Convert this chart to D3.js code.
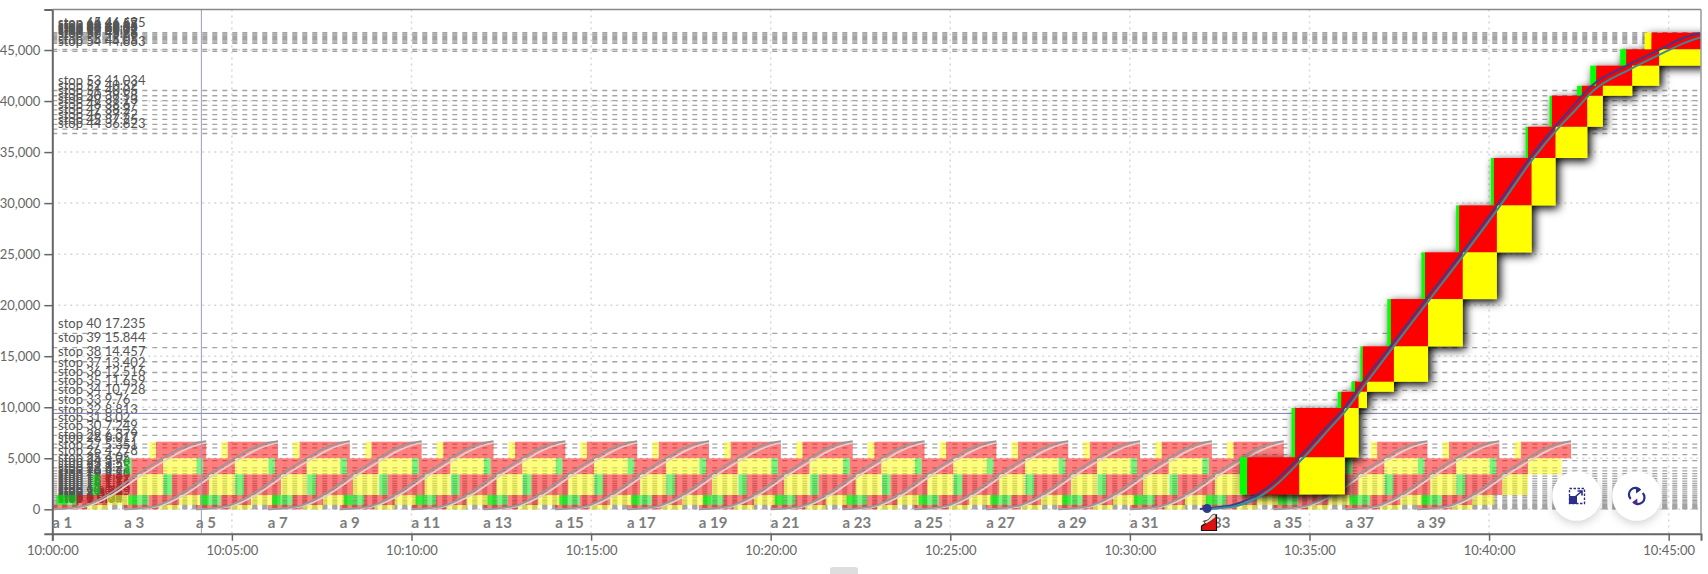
<!DOCTYPE html>
<html><head><meta charset="utf-8">
<script src="https://cdn.jsdelivr.net/npm/d3@7/dist/d3.min.js"></script>
<style>html,body{margin:0;padding:0;background:#fff;overflow:hidden}svg{display:block;font-family:Lato,"Open Sans",sans-serif}</style>
</head><body><svg id="c" width="1708" height="574"></svg>
<script>
// ---------- data ----------
const runNumbers = [1,3,5,7,9,11,13,15,17,19,21,23,25,27,29,31,33,35,37,39];
const runStartSeconds = [0,120,240,360,480,600,720,840,960,1080,1200,1320,1440,1560,1680,1800,1920,2040,2160,2280];
const yTicks = [0,5000,10000,15000,20000,25000,30000,35000,40000,45000];
const xTickSeconds = [0,300,600,900,1200,1500,1800,2100,2400,2700];
// stop numbers are their position + 1; values in thousands as labelled
const stopValues = [0.04,0.09,0.15,0.22,0.3,0.39,0.49,0.6,0.72,0.85,1.0,1.16,1.33,1.51,1.7,1.9,2.1,2.31,2.53,2.76,3.0,3.25,3.5,3.76,4.05,4.778,5.351,6.017,6.379,7.249,8.02,8.813,9.76,10.728,11.659,12.516,13.402,14.457,15.844,17.235,
  22.2,24.9,30.6,36.823,37.25,37.72,38.2,38.67,39.13,39.58,40.05,40.52,41.034,44.863,45.05,45.66,45.78,45.9,46.01,46.12,46.23,46.34,46.45,46.57,46.695];
const hiddenStops = [41,42,43];
// faded template (seconds from run start): [low, high, start, end]
const fadedRed = [[0,420,0,58],[420,1400,41,92],[1400,3430,80,142],[3430,5000,132,185],[5000,6625,173,257]];
const fadedYellow = [[0,420,58,92],[420,1400,92,129],[1400,3430,142,185],[3430,5000,185,241],[5000,6625,162,173]];
const fadedGreen = [[420,1400,7,41],[420,1400,7,21],[1400,3430,66,80],[3430,5000,121,132]];
const fadedCurveT = [0,30,58,92,142,185,215,240,257];
const fadedCurveV = [0,120,420,1400,3430,5000,6000,6500,6680];
const fadedCurve2T = [0,35,63,97,148,191,220,245,257];
const fadedCurve2V = [0,90,380,1300,3300,4850,5800,6350,6500];
// highlighted run (seconds after 10:00:00)
const hiLow  = [1470,5095,9925,11520,12500,15970,20600,25180,29780,34420,37480,40520,41500,43470,45070];
const hiHigh = [5095,9925,11520,12500,15970,20600,25180,29780,34420,37480,40520,41500,43470,45070,46700];
const hiGreen = [[1984,1996],[2070,2076],[2147,2153],[2170,2176],[2185,2189],[2230,2236],[2287,2293],[2345,2350],[2403,2408],[2461,2465],[2501,2505],[2547,2555],[2569,2579],[2619,2629]];
const hiRed = [[1996,2083],[2076,2158],[2153,2182],[2176,2196],[2189,2241],[2236,2298],[2293,2356],[2350,2413],[2408,2471],[2465,2511],[2505,2564],[2555,2590],[2579,2639],[2629,2684],[2671,2760]];
const hiYellow = [[2083,2159],[2158,2182],[2182,2196],[2196,2241],[2241,2298],[2298,2356],[2356,2413],[2413,2471],[2471,2511],[2511,2564],[2564,2590],[2590,2639],[2639,2684],[2684,2760],[2660,2671]];
const curveT = [1917,1929,1972,2029,2083,2129,2158,2189,2235,2295,2355,2413,2468,2510,2539,2569,2630,2686,2724,2752];
const curveV = [30,100,421,2087,5095,8092,9925,12472,15970,20603,25179,29783,34417,37483,39413,41373,43460,45066,46173,46663];
const curve2T = [1933,1980,2036,2089,2135,2163,2195,2240,2300,2360,2418,2473,2515,2544,2574,2635,2690,2729,2757];
const curve2V = [40,350,2000,5000,8000,9850,12400,15900,20500,25100,29700,34300,37300,39100,41000,43100,44700,45750,46300];
const dotPoint = [1929,80];
const crossT = 249, crossV = 9400;

// ---------- scales ----------
const base = new Date(2020,0,1,10,0,0);
const T = s => new Date(base.getTime()+s*1000);
const L=52.3,R=1701,TOP=9.5,B=533.7;
const x = d3.scaleTime().domain([T(0),T(2754)]).range([L,R]);
const y = d3.scaleLinear().domain([-2390,48970]).range([B,TOP]);
const svg = d3.select('#c');
const defs = svg.append('defs');
defs.append('clipPath').attr('id','plot').append('rect').attr('x',L).attr('y',TOP).attr('width',R-L).attr('height',B-TOP);
const f = defs.append('filter').attr('id','sh').attr('filterUnits','userSpaceOnUse').attr('x',1150).attr('y',0).attr('width',558).attr('height',540);
f.append('feGaussianBlur').attr('in','SourceAlpha').attr('stdDeviation',5).attr('result','b');
f.append('feOffset').attr('in','b').attr('dx',2.5).attr('dy',2.5).attr('result','o');
f.append('feComponentTransfer').attr('in','o').attr('result','c').append('feFuncA').attr('type','linear').attr('slope',1.05);
const fm = f.append('feMerge'); fm.append('feMergeNode').attr('in','c'); fm.append('feMergeNode').attr('in','SourceGraphic');
const bf = defs.append('filter').attr('id','bs').attr('x','-40%').attr('y','-40%').attr('width','180%').attr('height','180%');
bf.append('feDropShadow').attr('dx',0).attr('dy',3).attr('stdDeviation',5).attr('flood-color','#000').attr('flood-opacity',.18);

// ---------- grid ----------
const plot = svg.append('g').attr('clip-path','url(#plot)');
const grid = plot.append('g').attr('stroke','#d6d6d6').attr('stroke-width',1.5).attr('stroke-dasharray','2 4');
grid.selectAll('.gx').data(xTickSeconds).join('line').attr('x1',d=>x(T(d))).attr('x2',d=>x(T(d))).attr('y1',TOP).attr('y2',B);
grid.selectAll('.gy').data(yTicks).join('line').attr('x1',L).attr('x2',R).attr('y1',d=>y(d)).attr('y2',d=>y(d));

// ---------- stop lines ----------
const stops = stopValues.map((v,i)=>({n:i+1,v})).filter(d=>!hiddenStops.includes(d.n));
plot.append('g').attr('stroke','#a3a3a3').attr('stroke-width',1.3).attr('stroke-dasharray','5 5')
  .selectAll('line').data(stops).join('line')
  .attr('x1',L).attr('x2',R).attr('y1',d=>y(d.v*1000)).attr('y2',d=>y(d.v*1000));
svg.append('g').attr('fill','#555').attr('font-size',13)
  .selectAll('text').data(stops).join('text')
  .attr('x',58).attr('y',d=>y(d.v*1000)-5.5).text(d=>`stop ${d.n} ${d.v}`);

// ---------- faded runs ----------
const faded = svg.append('g').attr('clip-path','url(#plot)').attr('fill-opacity',.5);
function fadedBars(list,color){
  runStartSeconds.forEach(s=>{
    faded.append('g').attr('fill',color).selectAll('rect').data(list).join('rect')
      .attr('x',d=>x(T(s+d[2]))).attr('width',d=>x(T(s+d[3]))-x(T(s+d[2])))
      .attr('y',d=>y(d[1])).attr('height',d=>y(d[0])-y(d[1]));
  });
}
fadedBars(fadedRed,'#ff0000');
fadedBars(fadedYellow,'#ffff00');
fadedBars(fadedGreen,'#00e800');

// ---------- faded curves ----------
const upper = svg.append('g').attr('clip-path','url(#plot)');
const curve = d3.line().x(d=>x(T(d[0]))).y(d=>y(d[1])).curve(d3.curveMonotoneX);
runStartSeconds.forEach(s=>{
  upper.append('path').attr('d',curve(fadedCurve2T.map((t,i)=>[s+t,fadedCurve2V[i]]))).attr('fill','none').attr('stroke','#e0d0d0').attr('stroke-width',1.8);
  upper.append('path').attr('d',curve(fadedCurveT.map((t,i)=>[s+t,fadedCurveV[i]]))).attr('fill','none').attr('stroke','#989898').attr('stroke-width',1.8);
});

// ---------- crosshair ----------
upper.append('line').attr('x1',L).attr('x2',R).attr('y1',y(crossV)).attr('y2',y(crossV)).attr('stroke','#7c7cb4').attr('stroke-width',1);
upper.append('line').attr('x1',x(T(crossT))).attr('x2',x(T(crossT))).attr('y1',TOP).attr('y2',B).attr('stroke','#9a9ac8').attr('stroke-width',1);

// ---------- highlighted run ----------
const hi = upper.append('g').attr('filter','url(#sh)');
function hiBars(list,color){
  hi.append('g').attr('fill',color).selectAll('rect').data(list).join('rect')
    .attr('x',d=>x(T(d[0]))).attr('width',d=>x(T(d[1]))-x(T(d[0])))
    .attr('y',(d,i)=>y(hiHigh[i])).attr('height',(d,i)=>y(hiLow[i])-y(hiHigh[i]));
}
hiBars(hiGreen,'#00ff00');
hiBars(hiRed,'#ff0000');
hiBars(hiYellow,'#ffff00');
upper.append('path').attr('d',curve(curveT.map((t,i)=>[t,curveV[i]]))).attr('fill','none').attr('stroke','#3d3a8c').attr('stroke-width',2);
upper.append('path').attr('d',curve(curve2T.map((t,i)=>[t,curve2V[i]]))).attr('fill','none').attr('stroke','#2f8f9e').attr('stroke-width',2);

// ---------- axes ----------
const ax = svg.append('g').attr('transform',`translate(0,${B})`).call(
  d3.axisBottom(x).tickValues(xTickSeconds.map(T)).tickFormat(d3.timeFormat('%H:%M:%S')).tickSize(7).tickPadding(5));
const ay = svg.append('g').attr('transform',`translate(${L},0)`).call(
  d3.axisLeft(y).tickValues(yTicks).tickFormat(d3.format(',')).tickSize(8).tickPadding(4));
[ax,ay].forEach(g=>{
  g.selectAll('path').attr('stroke','#666').attr('stroke-width',2);
  g.selectAll('line').attr('stroke','#666').attr('stroke-width',1.5);
  g.selectAll('text').attr('fill','#666').attr('font-size',13).attr('font-family','Lato,sans-serif');
});
svg.append('line').attr('x1',L).attr('x2',R).attr('y1',TOP).attr('y2',TOP).attr('stroke','#888').attr('stroke-width',1.5);
svg.append('line').attr('x1',R).attr('x2',R).attr('y1',TOP).attr('y2',B).attr('stroke','#999').attr('stroke-width',1.5);

// ---------- run labels ----------
svg.append('g').attr('fill','#7d7d7d').attr('font-size',15).attr('font-weight',700)
  .selectAll('text').data(runNumbers).join('text')
  .attr('x',(d,i)=>x(T(runStartSeconds[i]))).attr('y',528).text(d=>`a ${d}`);

// ---------- dot, icon, buttons, handle ----------
svg.append('circle').attr('cx',x(T(dotPoint[0]))).attr('cy',y(dotPoint[1])).attr('r',4.5).attr('fill','#2b3a8c');
const ic = svg.append('g').attr('transform','translate(1201,514)');
ic.append('path').attr('d','M0.5 16.5V12L5 9.5V8L9 6.5L12 2.5L15.5 1V16.5Z').attr('fill','#e01010').attr('stroke','#111').attr('stroke-width',1.2);
ic.append('path').attr('d','M3 8L8 5L11 1L14 0L15 3L10 7L5 10Z').attr('fill','#f5d8c4').attr('stroke','#333').attr('stroke-width',.8);
[[1576.7,496],[1636.7,496]].forEach(c=>svg.append('circle').attr('cx',c[0]).attr('cy',c[1]).attr('r',24.5).attr('fill','#fff').attr('filter','url(#bs)'));
const navy='#2a2e8c';
const b1 = svg.append('g').attr('transform','translate(1569,488)');
b1.append('rect').attr('x',.5).attr('y',.5).attr('width',15).attr('height',15).attr('fill','none').attr('stroke',navy).attr('stroke-width',1.4).attr('stroke-dasharray','2.5 1.5');
b1.append('rect').attr('x',0).attr('y',8).attr('width',8).attr('height',8).attr('fill',navy);
b1.append('path').attr('d','M6 9L13 3M8.5 3H13V7.5').attr('fill','none').attr('stroke',navy).attr('stroke-width',1.6);
const b2 = svg.append('g').attr('transform','translate(1636.7,496)').attr('fill','none').attr('stroke-width',2.2);
b2.append('path').attr('d','M-6 3A6.5 6.5 0 0 1 3.5 -6').attr('stroke',navy);
b2.append('path').attr('d','M6 -3A6.5 6.5 0 0 1 -3.5 6').attr('stroke',navy);
b2.append('path').attr('d','M-1 -9.5L4.5 -6.2L-0.5 -2.5Z').attr('fill',navy).attr('stroke','none');
b2.append('path').attr('d','M1 9.5L-4.5 6.2L0.5 2.5Z').attr('fill','#5a2a80').attr('stroke','none');
svg.append('path').attr('d','M830 574V570Q830 567 833 567H855Q858 567 858 570V574Z').attr('fill','#dedede');
</script></body></html>
